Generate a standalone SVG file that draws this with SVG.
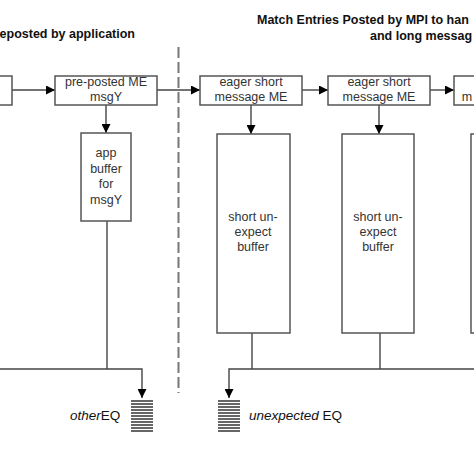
<svg xmlns="http://www.w3.org/2000/svg" xmlns:xlink="http://www.w3.org/1999/xlink" width="474" height="474" viewBox="0 0 474 474">
<style>
.box{fill:#fff;stroke:#555;stroke-width:1.5}
.lbl{font-family:"Liberation Sans",Arial,sans-serif;font-size:12.5px;fill:#333;text-anchor:middle}
.title{font-family:"Liberation Sans",Arial,sans-serif;font-size:12.5px;font-weight:bold;fill:#111}
.eqt{font-family:"Liberation Sans",Arial,sans-serif;font-size:13.5px;fill:#111}
.con{fill:none;stroke:#444;stroke-width:1.4}
.arr{marker-end:url(#ah)}
.stk line{stroke:#333;stroke-width:1.5}
</style>
<defs>
<marker id="ah" viewBox="0 0 10 10" refX="10" refY="5" markerWidth="9" markerHeight="9" markerUnits="userSpaceOnUse" orient="auto">
<path d="M0,0 L10,5 L0,10 z" fill="#000"/>
</marker>
<g id="eq" class="stk">
<line x1="0" y1="1" x2="22" y2="1"/><line x1="0" y1="4" x2="22" y2="4"/><line x1="0" y1="7" x2="22" y2="7"/>
<line x1="0" y1="10" x2="22" y2="10"/><line x1="0" y1="13" x2="22" y2="13"/><line x1="0" y1="16" x2="22" y2="16"/>
<line x1="0" y1="19" x2="22" y2="19"/><line x1="0" y1="22" x2="22" y2="22"/><line x1="0" y1="25" x2="22" y2="25"/>
<line x1="0" y1="28" x2="22" y2="28"/><line x1="0" y1="31" x2="22" y2="31"/>
</g>
</defs>
<rect width="474" height="474" fill="#fff"/>

<g id="titles">
<text class="title" x="135" y="38" text-anchor="end">eposted by application</text>
<text class="title" x="257" y="24">Match Entries Posted by MPI to han</text>
<text class="title" x="370" y="40">and long messag</text>
</g>

<line id="divider" x1="178.5" y1="47" x2="178.5" y2="393" stroke="#777" stroke-width="2" stroke-dasharray="11 4"/>

<g id="connectors">
<path class="con arr" d="M12,90 H55"/>
<path class="con arr" d="M157,90 H200"/>
<path class="con arr" d="M302,90 H328"/>
<path class="con arr" d="M430,90 H454"/>
<path class="con arr" d="M106,105 V133"/>
<path class="con arr" d="M251,105 V134"/>
<path class="con arr" d="M379,105 V134"/>
<path class="con" d="M107,221 V369"/>
<path class="con arr" d="M0,369 H142 V398"/>
<path class="con" d="M252,333 V369"/>
<path class="con" d="M380,333 V369"/>
<path class="con arr" d="M474,369 H229 V398"/>
</g>

<g id="node-left">
<rect class="box" x="-90" y="76" width="102" height="29"/>
</g>
<g id="node-preposted">
<rect class="box" x="55" y="76" width="102" height="29"/>
<text class="lbl" x="106" y="86">pre-posted ME</text>
<text class="lbl" x="106" y="101">msgY</text>
</g>
<g id="node-appbuf">
<rect class="box" x="81" y="133" width="50" height="88"/>
<text class="lbl" x="106" y="157">app</text>
<text class="lbl" x="106" y="172.5">buffer</text>
<text class="lbl" x="106" y="188">for</text>
<text class="lbl" x="106" y="203.5">msgY</text>
</g>
<g id="node-eager1">
<rect class="box" x="200" y="76" width="102" height="29"/>
<text class="lbl" x="251" y="86">eager short</text>
<text class="lbl" x="251" y="101">message ME</text>
</g>
<g id="node-eager2">
<rect class="box" x="328" y="76" width="102" height="29"/>
<text class="lbl" x="379" y="86">eager short</text>
<text class="lbl" x="379" y="101">message ME</text>
</g>
<g id="node-third">
<rect class="box" x="454" y="76" width="102" height="29"/>
<text class="lbl" x="467" y="101">m</text>
</g>
<g id="node-buf1">
<rect class="box" x="217" y="134" width="73" height="199"/>
<text class="lbl" x="253" y="221">short  un-</text>
<text class="lbl" x="253" y="236">expect</text>
<text class="lbl" x="253" y="251">buffer</text>
</g>
<g id="node-buf2">
<rect class="box" x="342" y="134" width="72" height="199"/>
<text class="lbl" x="378" y="221">short  un-</text>
<text class="lbl" x="378" y="236">expect</text>
<text class="lbl" x="378" y="251">buffer</text>
</g>
<g id="node-buf3">
<rect class="box" x="471" y="134" width="72" height="199"/>
</g>

<g id="node-otherEQ">
<use xlink:href="#eq" x="131" y="400"/>
<text class="eqt" x="70" y="420"><tspan font-style="italic">other</tspan>EQ</text>
</g>
<g id="node-unexpEQ">
<use xlink:href="#eq" x="218" y="400"/>
<text class="eqt" x="249" y="420"><tspan font-style="italic">unexpected</tspan>  EQ</text>
</g>
</svg>
